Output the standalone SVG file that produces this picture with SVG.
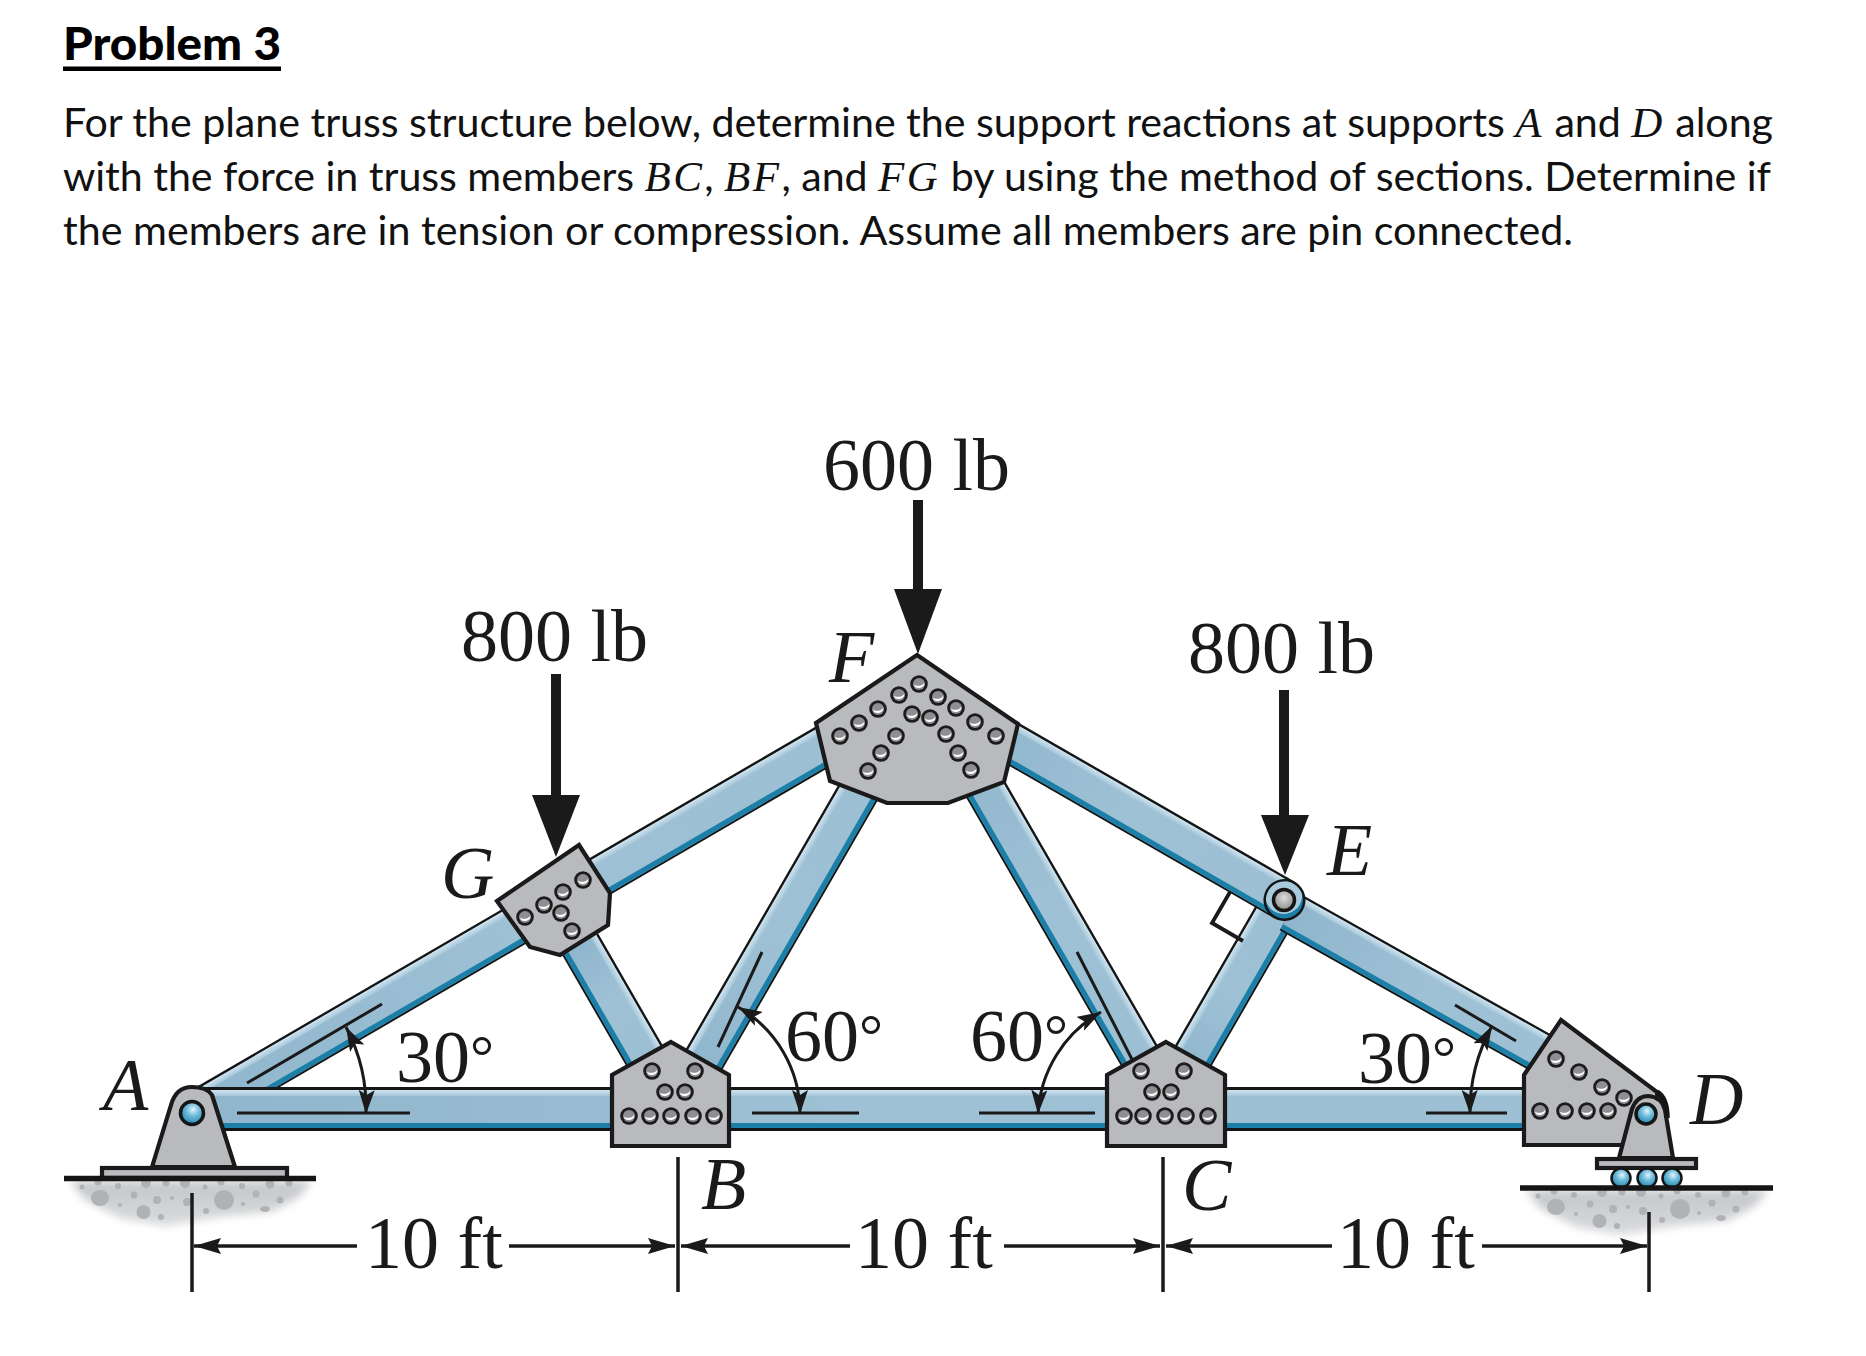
<svg xmlns="http://www.w3.org/2000/svg" width="1866" height="1356" viewBox="0 0 1866 1356">
<style>
.h{font-family:"Lato","Liberation Sans",sans-serif;font-size:41.2px;fill:#111}
.hb{font-family:"Lato","Liberation Sans",sans-serif;font-size:46px;font-weight:900;fill:#000}
.m{font-family:"Liberation Serif",serif;font-style:italic;font-size:43px;letter-spacing:2.5px}
.t{font-family:"Liberation Serif",serif;font-size:74px;fill:#1a1a1a}
.dg{font-size:60px}
.i{font-family:"Liberation Serif",serif;font-style:italic;font-size:74px;fill:#1a1a1a}
.thin{stroke:#1a1a1a;stroke-width:3;fill:none}
.sq{stroke:#1a1a1a;stroke-width:3.8;fill:none}
.arc{stroke:#1a1a1a;stroke-width:3;fill:none;marker-start:url(#as);marker-end:url(#ae)}
.dim{stroke:#1a1a1a;stroke-width:3.5;fill:none}
.dima{stroke:#1a1a1a;stroke-width:3.5;fill:none;marker-end:url(#ad)}
.load{stroke:#1a1a1a;stroke-width:10;fill:none}
.mo{fill:#151515}.mb{fill:url(#body)}.mh{fill:url(#hi)}.ml{fill:#1b7fa8}
.g{fill:#b9babd;stroke:#1a1a1a;stroke-width:4.2;stroke-linejoin:miter}
.gnd{fill:url(#soilg);filter:url(#blur)}
.sp{fill:#b0b2b5}
.gl{stroke:#151515;stroke-width:5.5}
</style>
<defs>
<linearGradient id="body" x1="0" x2="1" y1="0" y2="0"><stop offset="0" stop-color="#8fb6cd"/><stop offset=".5" stop-color="#9fc1d5"/><stop offset="1" stop-color="#9cbfd3"/></linearGradient>
<linearGradient id="hi" x1="0" x2="0" y1="0" y2="1"><stop offset="0" stop-color="#cfe3ee"/><stop offset="1" stop-color="#a5c6d9"/></linearGradient>
<linearGradient id="soilg" x1="0" x2="0" y1="0" y2="1"><stop offset="0" stop-color="#c4c6c9"/><stop offset="1" stop-color="#dadbdd"/></linearGradient>
<radialGradient id="pinb" cx=".55" cy=".35" r=".7"><stop offset="0" stop-color="#e6f4fa"/><stop offset=".4" stop-color="#6fbcdc"/><stop offset="1" stop-color="#1b7fa8"/></radialGradient>
<radialGradient id="ping" cx=".5" cy=".4" r=".6"><stop offset="0" stop-color="#dddddd"/><stop offset="1" stop-color="#8a8a8a"/></radialGradient>
<filter id="blur" x="-10%" y="-10%" width="120%" height="130%"><feGaussianBlur stdDeviation="4"/></filter>
<clipPath id="ecap"><circle cx="357" r="18.500"/></clipPath>
<g id="r"><circle r="8.800" fill="#1c1c1c"/><circle r="6" fill="#8e8f92"/><path d="M-5.400 0.500A5.600 5.600 0 0 0 5.400 -1.500A6.500 4.500 0 0 1 -5.400 0.500Z" fill="#fff"/></g>
<g id="soil">
<path class="gnd" d="M70 1181H312L298 1198L272 1212L219 1217L165 1226L120 1218L85 1200Z"/>
<g class="sp"><ellipse cx="100" cy="1198" rx="9" ry="8"/><ellipse cx="224" cy="1200" rx="10" ry="10"/><ellipse cx="143.500" cy="1212" rx="7" ry="7"/><circle cx="82" cy="1187" r="2.500"/><circle cx="98" cy="1182" r="3.500"/><circle cx="118" cy="1186" r="3"/><circle cx="134" cy="1195" r="3.500"/><circle cx="146" cy="1183" r="5"/><circle cx="157" cy="1200" r="4"/><circle cx="166" cy="1183" r="3.500"/><circle cx="185" cy="1183" r="5"/><circle cx="187" cy="1202" r="4"/><circle cx="172" cy="1198" r="2"/><circle cx="205" cy="1187" r="2.500"/><circle cx="221" cy="1182" r="3.500"/><circle cx="242" cy="1186" r="3"/><circle cx="256" cy="1194" r="3.500"/><circle cx="270" cy="1184" r="4.500"/><circle cx="280" cy="1200" r="3.500"/><circle cx="289" cy="1183" r="3.500"/><circle cx="120" cy="1205" r="2"/><circle cx="161" cy="1217" r="3"/><circle cx="206" cy="1211" r="3"/><ellipse cx="265" cy="1209" rx="5" ry="3"/><circle cx="243" cy="1204" r="2"/></g>
</g>
<marker id="ae" viewBox="0 0 24 16" markerWidth="24" markerHeight="16" refX="24" refY="8" orient="auto" markerUnits="userSpaceOnUse"><path d="M0 0L24 8L0 16L5 8Z" fill="#1a1a1a"/></marker>
<marker id="as" viewBox="0 0 24 16" markerWidth="24" markerHeight="16" refX="0" refY="8" orient="auto" markerUnits="userSpaceOnUse"><path d="M24 0L0 8L24 16L19 8Z" fill="#1a1a1a"/></marker>
<marker id="ad" viewBox="0 0 27 16" markerWidth="27" markerHeight="16" refX="27" refY="8" orient="auto" markerUnits="userSpaceOnUse"><path d="M0 0L27 8L0 16L4 8Z" fill="#1a1a1a"/></marker>
</defs>
<rect width="1866" height="1356" fill="#fff"/>
<g id="header">
<text class="hb" x="63" y="60" textLength="218" lengthAdjust="spacingAndGlyphs">Problem 3</text>
<rect x="63" y="66.500" width="218" height="4.500" fill="#000"/>
<text class="h" x="63" y="137" textLength="1710">For the plane truss structure below, determine the support reactions at supports <tspan class="m">A</tspan> and <tspan class="m">D</tspan> along</text>
<text class="h" x="63" y="191" textLength="1708">with the force in truss members <tspan class="m">BC</tspan>, <tspan class="m">BF</tspan>, and <tspan class="m">FG</tspan> by using the method of sections. Determine if</text>
<text class="h" x="63" y="245" textLength="1510">the members are in tension or compression. Assume all members are pin connected.</text>
</g>
<g id="ground">
<use href="#soil"/>
<use href="#soil" transform="translate(1456,9)"/>
</g>
<g id="members">
<g transform="translate(190,1115) rotate(-30.2)"><rect class="mo" y="-21" width="780" height="42"/><rect class="mb" y="-18.500" width="780" height="37.500"/><rect class="mh" y="-18.500" width="780" height="6"/><rect class="ml" y="14" width="780" height="5"/></g>
<g transform="translate(580,944) rotate(60)"><rect class="mo" y="-21" width="130" height="42"/><rect class="mb" y="-18.500" width="130" height="37.500"/><rect class="ml" y="14" width="130" height="5"/><rect class="mh" y="-18.500" width="130" height="6"/></g>
<g transform="translate(695,1075) rotate(-60)"><rect class="mo" y="-21" width="330" height="42"/><rect class="mb" y="-18.500" width="330" height="37.500"/><rect class="mh" y="-18.500" width="330" height="6"/><rect class="ml" y="14" width="330" height="5"/></g>
<g transform="translate(960,745) rotate(60)"><rect class="mo" y="-21" width="360" height="42"/><rect class="mb" y="-18.500" width="360" height="37.500"/><rect class="mh" y="-18.500" width="360" height="6"/><rect class="ml" y="14" width="360" height="5"/></g>
<g transform="translate(1185,1070) rotate(-60)"><rect class="mo" y="-21" width="180" height="42"/><rect class="mb" y="-18.500" width="180" height="37.500"/><rect class="mh" y="-18.500" width="180" height="6"/><rect class="ml" y="14" width="180" height="5"/></g>
<g transform="translate(1290,912) rotate(29.3)"><rect class="mo" y="-21" width="330" height="42"/><rect class="mb" y="-18.500" width="330" height="37.500"/><rect class="mh" y="-18.500" width="330" height="6"/><rect class="ml" y="14" width="330" height="5"/></g>
<g transform="translate(975,722) rotate(29.9)"><rect class="mo" y="-21" width="357" height="42"/><rect class="mb" y="-18.500" width="357" height="37.500"/><rect class="mh" y="-18.500" width="357" height="6"/><rect class="ml" y="14" width="357" height="5"/><circle cx="357" r="21" fill="#151515"/><circle cx="357" r="18.500" fill="#1b7fa8"/><circle cx="354" cy="-3.500" r="18.500" fill="#a9cadc" clip-path="url(#ecap)"/></g>
<rect class="mo" x="190" y="1087" width="1370" height="44"/><rect class="mb" x="190" y="1090" width="1370" height="38"/><rect class="mh" x="190" y="1090" width="1370" height="6"/><rect class="ml" x="190" y="1123" width="1370" height="5"/>
<path class="thin" d="M247 1083L382 1004M237 1113H410M718 1047L762 952M752 1113H859M1077 952L1138 1071M979 1113H1095M1455 1005L1516 1041M1426 1113H1507"/>
<path class="sq" d="M1230 892L1212 923L1243 941"/>
<path class="arc" d="M346 1027A175 175 0 0 1 366 1114"/>
<path class="arc" d="M738 1007A123 123 0 0 1 800 1114"/>
<path class="arc" d="M1038 1114A125 125 0 0 1 1101 1012"/>
<path class="arc" d="M1470 1114A178 178 0 0 1 1492 1026"/>
</g>
<g id="node-G">
<polygon class="g" points="579,845 610,893 608,925 560,955 530,947 497,901"/>
<use href="#r" x="525" y="917"/><use href="#r" x="544" y="905"/><use href="#r" x="563" y="892"/><use href="#r" x="583" y="880"/><use href="#r" x="561" y="913"/><use href="#r" x="572" y="931"/>
<text class="i" x="441" y="898">G</text>
</g>
<g id="node-F">
<polygon class="g" points="917,655 1018,724 1004,782 948,803 887,803 830,781 816,723"/>
<use href="#r" x="840" y="736"/><use href="#r" x="859" y="723"/><use href="#r" x="878" y="709"/><use href="#r" x="899" y="695"/><use href="#r" x="919" y="684"/><use href="#r" x="938" y="697"/><use href="#r" x="956" y="708"/><use href="#r" x="975" y="722"/><use href="#r" x="996" y="736"/><use href="#r" x="912" y="714"/><use href="#r" x="930" y="718"/><use href="#r" x="896" y="736"/><use href="#r" x="881" y="753"/><use href="#r" x="868" y="771"/><use href="#r" x="946" y="734"/><use href="#r" x="958" y="753"/><use href="#r" x="971" y="770"/>
<text class="i" x="829" y="682">F</text>
</g>
<g id="node-B">
<polygon class="g" points="671,1042 729,1075 729,1146 612,1146 612,1075"/>
<use href="#r" x="629" y="1116"/><use href="#r" x="650" y="1116"/><use href="#r" x="671" y="1116"/><use href="#r" x="693" y="1116"/><use href="#r" x="714" y="1116"/><use href="#r" x="665" y="1092"/><use href="#r" x="685" y="1092"/><use href="#r" x="652" y="1071"/><use href="#r" x="695" y="1071"/>
<text class="i" x="701" y="1209">B</text>
</g>
<g id="node-C">
<polygon class="g" points="1166,1042 1225,1075 1225,1146 1107,1146 1107,1075"/>
<use href="#r" x="1124" y="1116"/><use href="#r" x="1143" y="1116"/><use href="#r" x="1165" y="1116"/><use href="#r" x="1186" y="1116"/><use href="#r" x="1208" y="1116"/><use href="#r" x="1152" y="1092"/><use href="#r" x="1171" y="1092"/><use href="#r" x="1141" y="1071"/><use href="#r" x="1184" y="1071"/>
<text class="i" x="1182" y="1210">C</text>
</g>
<g id="node-E">
<circle cx="1284" cy="900" r="10.500" fill="url(#ping)" stroke="#151515" stroke-width="3.500"/>
<text class="i" x="1327" y="875">E</text>
</g>
<g id="node-D">
<polygon class="g" points="1524,1145 1524,1075 1561,1020 1657,1092 1660,1145"/>
<use href="#r" x="1556" y="1059"/><use href="#r" x="1579" y="1072"/><use href="#r" x="1602" y="1087"/><use href="#r" x="1624" y="1098"/><use href="#r" x="1540" y="1111"/><use href="#r" x="1565" y="1111"/><use href="#r" x="1587" y="1111"/><use href="#r" x="1608" y="1111"/>
<path class="g" d="M1619 1158L1632 1109Q1637 1096 1648 1096Q1662 1097 1665 1110L1673 1158Z"/>
<path d="M1657 1092Q1667 1098 1667 1118" fill="none" stroke="#151515" stroke-width="5.500"/>
<circle cx="1646" cy="1114" r="10" fill="url(#pinb)" stroke="#151515" stroke-width="3.500"/>
<rect class="g" x="1597" y="1159" width="99" height="9" stroke-width="3.500"/>
<circle cx="1621" cy="1178" r="9.500" fill="url(#pinb)" stroke="#151515" stroke-width="2.500"/><circle cx="1647" cy="1178" r="9.500" fill="url(#pinb)" stroke="#151515" stroke-width="2.500"/><circle cx="1672" cy="1178" r="9.500" fill="url(#pinb)" stroke="#151515" stroke-width="2.500"/>
<line class="gl" x1="1520" y1="1188" x2="1773" y2="1188"/>
<text class="i" x="1690" y="1124">D</text>
</g>
<g id="node-A">
<path class="g" d="M152 1167L171 1105Q176 1087 192 1087Q207 1087 212 1095L235 1167Z"/>
<circle cx="192" cy="1113" r="11.500" fill="url(#pinb)" stroke="#151515" stroke-width="3.500"/>
<rect class="g" x="102" y="1168" width="185" height="10"/>
<line class="gl" x1="64" y1="1178.500" x2="316" y2="1178.500"/>
<text class="i" x="103" y="1110">A</text>
</g>
<g id="dimensions">
<path class="dim" d="M192 1193V1292M678 1157V1292M1163 1157V1292M1649 1212V1292"/>
<path class="dima" d="M357 1246H194"/><path class="dima" d="M509 1246H675"/>
<path class="dima" d="M850 1246H681"/><path class="dima" d="M1004 1246H1160"/>
<path class="dima" d="M1332 1246H1166"/><path class="dima" d="M1482 1246H1647"/>
<text class="t" x="365" y="1268">10 ft</text><text class="t" x="855" y="1268">10 ft</text><text class="t" x="1337" y="1268">10 ft</text>
</g>
<g id="loads">
<line class="load" x1="918" y1="500" x2="918" y2="600"/><polygon points="894,589 942,589 918,654" fill="#1a1a1a"/>
<line class="load" x1="556" y1="674" x2="556" y2="805"/><polygon points="532,795 580,795 556,857" fill="#1a1a1a"/>
<line class="load" x1="1284" y1="690" x2="1284" y2="825"/><polygon points="1261,815 1309,815 1285,875" fill="#1a1a1a"/>
<text class="t" x="823" y="490">600 lb</text><text class="t" x="461" y="661">800 lb</text><text class="t" x="1188" y="673">800 lb</text>
</g>
<g id="angles">
<text class="t" x="396" y="1082">30<tspan class="dg" dy="-5">°</tspan></text><text class="t" x="785" y="1061">60<tspan class="dg" dy="-5">°</tspan></text><text class="t" x="970" y="1061">60<tspan class="dg" dy="-5">°</tspan></text><text class="t" x="1358" y="1083">30<tspan class="dg" dy="-5">°</tspan></text>
</g>
</svg>
